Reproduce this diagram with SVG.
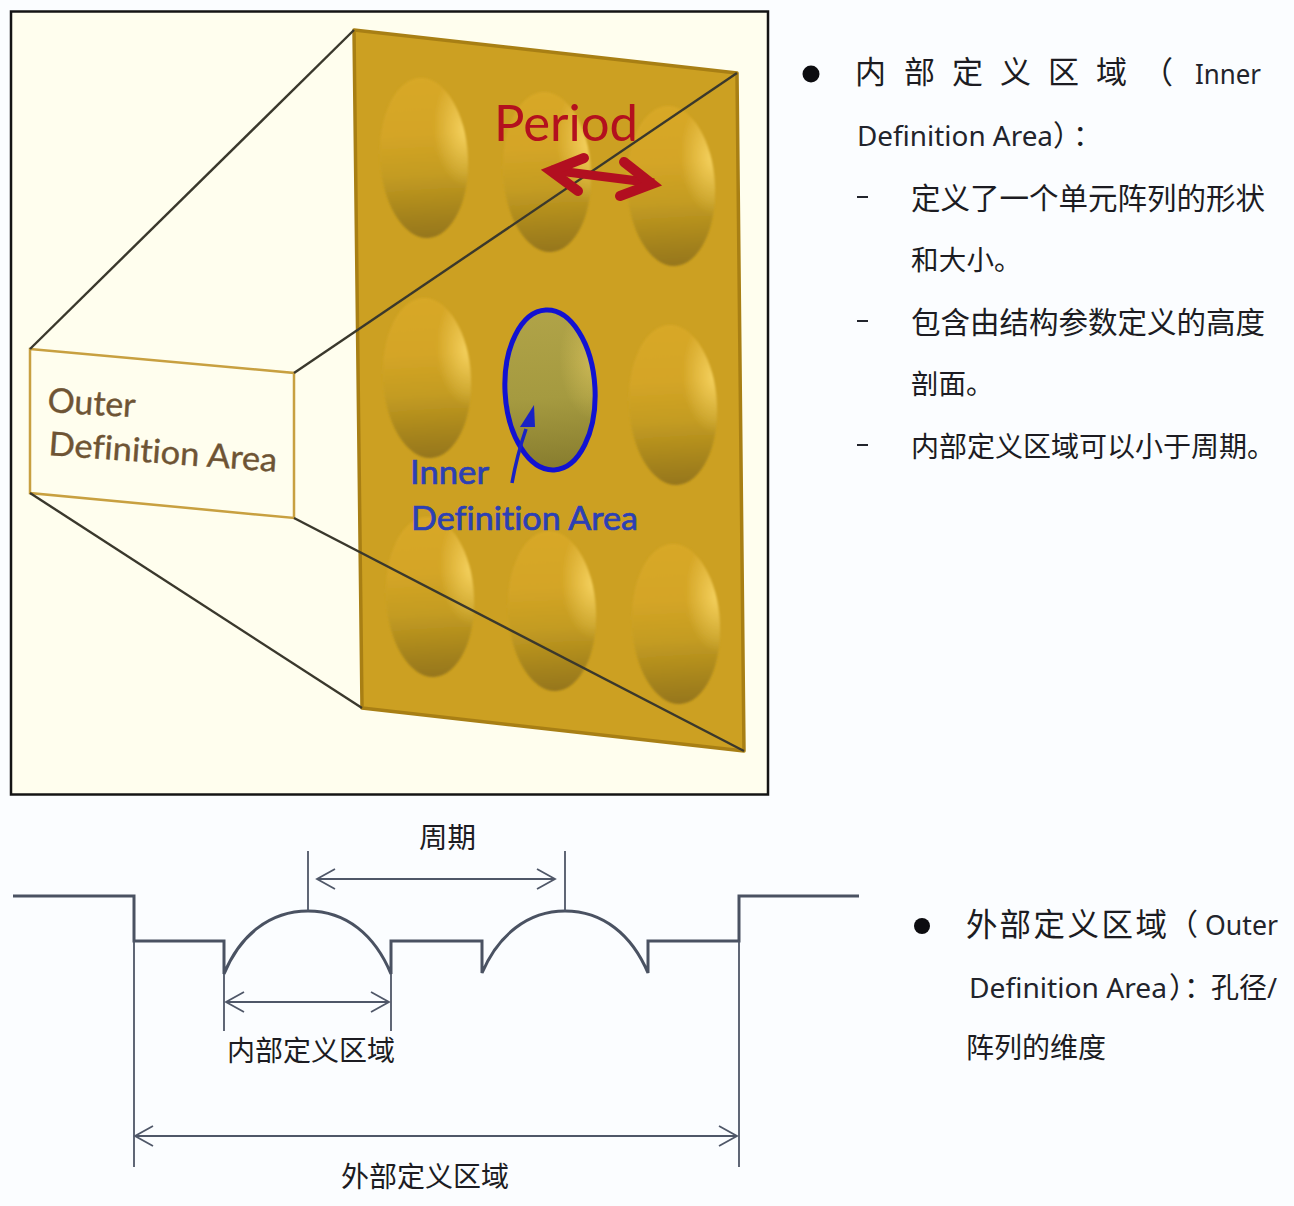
<svg xmlns="http://www.w3.org/2000/svg" width="1294" height="1206" viewBox="0 0 1294 1206">
<style>
.cjk{font-family:"Noto Sans CJK SC","Noto Sans",sans-serif;fill:#1c1c22}
.lat{font-family:"Noto Sans","Noto Sans CJK SC",sans-serif;fill:#22242c;font-size:27px}
.lbl{font-family:Lato,"Noto Sans",sans-serif;font-variant-ligatures:none}
.prof{fill:none;stroke:#4a5262;stroke-width:3;stroke-linejoin:miter}
.dim{fill:none;stroke:#4f5768;stroke-width:1.8}
.arr{marker-start:url(#open);marker-end:url(#open)}
.proj{stroke:#3a382c;stroke-width:2.400;fill:none}
.dash{stroke:#22242c;stroke-width:2}
</style>
<defs>
<marker id="open" markerUnits="userSpaceOnUse" markerWidth="26" markerHeight="26" viewBox="-22 -13 26 26" refX="0" refY="0" orient="auto-start-reverse"><path d="M-18,-10 L0,0 L-18,10" fill="none" stroke="#4f5768" stroke-width="1.8"/></marker>
<linearGradient id="domeG" x1="0" y1="0" x2="0" y2="1"><stop offset="0" stop-color="#d8a828"/><stop offset=".35" stop-color="#d4a526"/><stop offset=".6" stop-color="#c49c22"/><stop offset=".85" stop-color="#a6841c"/><stop offset="1" stop-color="#96761a"/></linearGradient>
<radialGradient id="domeH" cx=".98" cy=".34" r=".36"><stop offset="0" stop-color="#ffdf70" stop-opacity=".75"/><stop offset="1" stop-color="#ffdf70" stop-opacity="0"/></radialGradient>
<linearGradient id="innerG" x1="0" y1="0" x2="0" y2="1"><stop offset="0" stop-color="#b0a348"/><stop offset=".55" stop-color="#a59a40"/><stop offset="1" stop-color="#877c2e"/></linearGradient>
<filter id="soft" x="-10%" y="-10%" width="120%" height="120%"><feGaussianBlur stdDeviation="1.200"/></filter>
<g id="dome" filter="url(#soft)"><ellipse rx="44" ry="80" transform="rotate(-3)" fill="url(#domeG)"/><ellipse rx="44" ry="80" transform="rotate(-3)" fill="url(#domeH)"/></g>
</defs>
<rect width="1294" height="1206" fill="#fbfdff"/>

<g id="outer-frame"><rect x="11" y="11.500" width="757" height="783" fill="#fffeee" stroke="#141414" stroke-width="2.500"/></g>

<g id="panel">
<polygon points="354,30 737,73 744,751 362,708" fill="#cca022" stroke="#a87f14" stroke-width="3.500" stroke-linejoin="round"/>
<use href="#dome" x="424" y="158"/><use href="#dome" x="547" y="172"/><use href="#dome" x="671" y="186"/>
<use href="#dome" x="427" y="378"/><use href="#dome" x="673" y="405"/>
<use href="#dome" x="430" y="597"/><use href="#dome" x="552" y="611"/><use href="#dome" x="676" y="624"/>
</g>

<g id="inner-definition-area">
<ellipse cx="550" cy="390" rx="45" ry="80" transform="rotate(-3 550 390)" fill="url(#innerG)"/>
<ellipse cx="550" cy="390" rx="45" ry="80" transform="rotate(-3 550 390)" fill="url(#domeH)" opacity=".5"/>
<ellipse cx="550" cy="390" rx="45" ry="80" transform="rotate(-3 550 390)" fill="none" stroke="#1212d2" stroke-width="5"/>
<path d="M512,483 Q517,455 526,429" fill="none" stroke="#1a22c4" stroke-width="3.500"/>
<polygon points="534,405 520,427 535,427" fill="#1a22c4"/>
<text class="lbl" x="410" y="484" font-size="33" fill="#2c40b4" stroke="#2c40b4" stroke-width=".7" textLength="79" lengthAdjust="spacingAndGlyphs">Inner</text>
<text class="lbl" x="411" y="530" font-size="33" fill="#2c40b4" stroke="#2c40b4" stroke-width=".7" textLength="227" lengthAdjust="spacingAndGlyphs">Definition Area</text>
</g>

<g id="outer-definition-area">
<polygon points="30,349 294,373 294,518 30,493" fill="#fffeee" stroke="#c8a040" stroke-width="2.500"/>
<text class="lbl" transform="translate(47 412) rotate(3.500)" font-size="34" fill="#6e5434" stroke="#6e5434" stroke-width=".4" textLength="88" lengthAdjust="spacingAndGlyphs">Outer</text>
<text class="lbl" transform="translate(48 455) rotate(4.200)" font-size="33" fill="#6e5434" stroke="#6e5434" stroke-width=".4" textLength="229" lengthAdjust="spacingAndGlyphs">Definition Area</text>
</g>

<g id="projection-lines">
<line class="proj" x1="30" y1="349" x2="354" y2="30"/>
<line class="proj" x1="294" y1="373" x2="737" y2="73"/>
<line class="proj" x1="30" y1="493" x2="362" y2="708"/>
<line class="proj" x1="294" y1="518" x2="744" y2="751"/>
</g>

<g id="period">
<text class="lbl" x="494" y="141" font-size="50" fill="#b3101e" textLength="144" lengthAdjust="spacingAndGlyphs">Period</text>
<path d="M551,170 L654,183" fill="none" stroke="#b20f20" stroke-width="9"/>
<path d="M584,158 L551,171 L578,191" fill="none" stroke="#b20f20" stroke-width="10" stroke-linecap="round" stroke-linejoin="miter"/>
<path d="M624,162 L652,184 L620,196" fill="none" stroke="#b20f20" stroke-width="10" stroke-linecap="round" stroke-linejoin="miter"/>
</g>

<g id="inner-text">
<circle cx="811" cy="74" r="8.500" fill="#0c0c10"/>
<text class="cjk" x="855 904 952 1000 1048 1096" y="83" font-size="31">内部定义区域</text>
<text class="cjk" x="1142" y="83" font-size="31">（</text>
<text class="lat" x="1195" y="84" textLength="66" lengthAdjust="spacingAndGlyphs">Inner</text>
<text class="lat" x="857" y="146" textLength="196" lengthAdjust="spacingAndGlyphs">Definition Area</text>
<text class="cjk" x="1053 1073" y="146" font-size="29">）：</text>
<line class="dash" x1="857" y1="197" x2="868" y2="197"/>
<text class="cjk" x="911" y="209" font-size="29.500">定义了一个单元阵列的形状</text>
<text class="cjk" x="911" y="270" font-size="27.500" letter-spacing=".2">和大小。</text>
<line class="dash" x1="857" y1="321" x2="868" y2="321"/>
<text class="cjk" x="911" y="333" font-size="29.500">包含由结构参数定义的高度</text>
<text class="cjk" x="911" y="394" font-size="27.500">剖面。</text>
<line class="dash" x1="857" y1="445" x2="868" y2="445"/>
<text class="cjk" x="911" y="457" font-size="28">内部定义区域可以小于周期。</text>
</g>

<g id="outer-text">
<circle cx="922" cy="926" r="8" fill="#0c0c10"/>
<text class="cjk" x="966 999.500 1033.500 1067.500 1101.500 1135.500" y="936" font-size="31.500">外部定义区域</text>
<text class="cjk" x="1168" y="935" font-size="30">（</text>
<text class="lat" x="1205" y="935" textLength="73" lengthAdjust="spacingAndGlyphs">Outer</text>
<text class="lat" x="969" y="998" textLength="198" lengthAdjust="spacingAndGlyphs">Definition Area</text>
<text class="cjk" x="1169 1184" y="998" font-size="29">）：</text>
<text class="cjk" x="1211" y="998" font-size="28">孔径</text>
<text class="lat" x="1267" y="998">/</text>
<text class="cjk" x="966" y="1058" font-size="28">阵列的维度</text>
</g>

<g id="connectors">
<path class="prof" d="M13,896 H134 V941 H224 V974 C240,935 270,911 308,911 C346,911 375,935 391,974 V941 H482 V973 C498,935 528,911 565,911 C603,911 632,935 648,973 V941 H739 V896 H859"/>
<path class="dim" d="M308,851 V911 M565,851 V911 M224,974 V1031 M391,974 V1031 M134,941 V1167 M739,941 V1167"/>
<line class="dim arr" x1="317" y1="879" x2="555" y2="879"/>
<line class="dim arr" x1="226" y1="1002" x2="389" y2="1002"/>
<line class="dim arr" x1="135" y1="1136" x2="737" y2="1136"/>
</g>

<g id="dimension-labels">
<text class="cjk" x="419" y="848" font-size="28.500">周期</text>
<text class="cjk" x="227" y="1061" font-size="28">内部定义区域</text>
<text class="cjk" x="341" y="1187" font-size="28">外部定义区域</text>
</g>
</svg>
